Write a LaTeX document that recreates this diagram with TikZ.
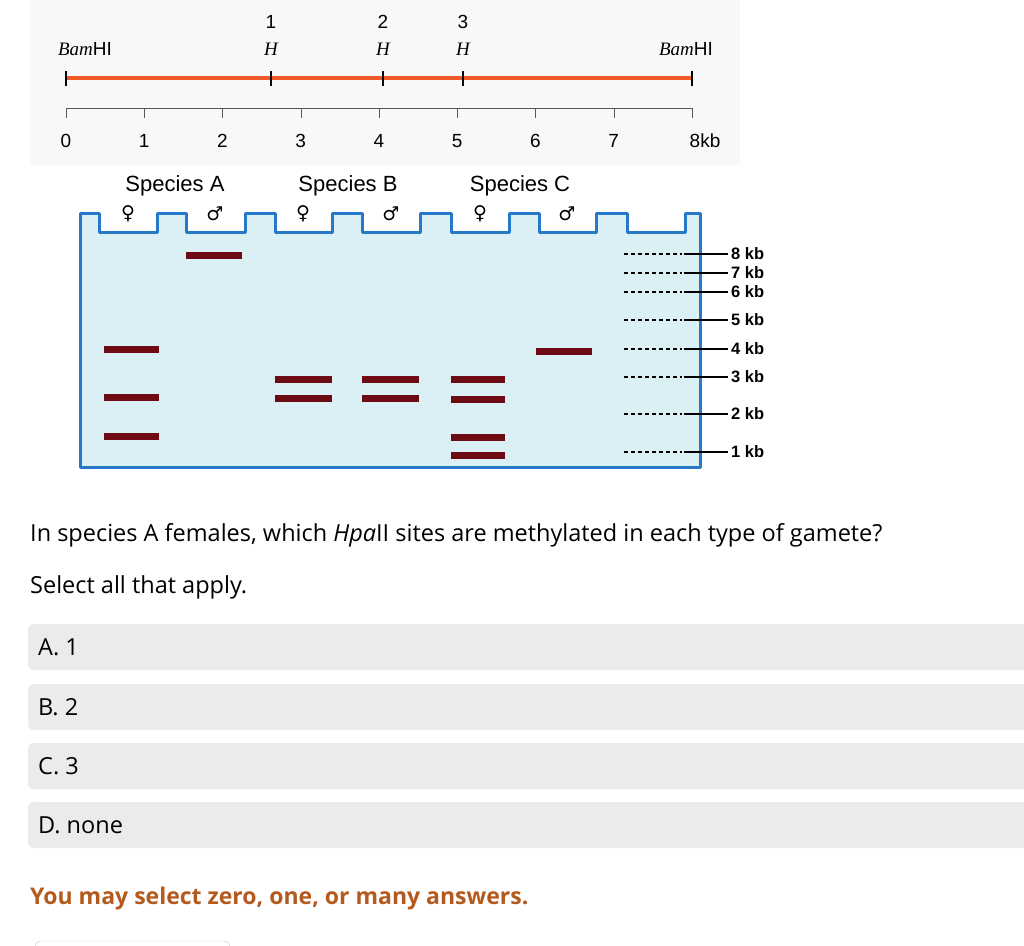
\documentclass[tikz,border=0pt]{standalone}
\usepackage{fontspec}
\setmainfont{Open Sans}
\newfontfamily\djv{DejaVu Sans}
\newfontfamily\arl{Liberation Sans}
\newfontfamily\tms{Liberation Serif}
\definecolor{bandc}{RGB}{110,10,20}
\definecolor{optc}{RGB}{235,235,235}
\definecolor{bgc}{RGB}{248,248,248}
\definecolor{mapc}{RGB}{240,90,40}
\definecolor{gelc}{RGB}{218,240,245}
\definecolor{gelb}{RGB}{40,120,200}
\definecolor{orc}{RGB}{180,90,30}
\begin{document}
\begin{tikzpicture}[x=1pt,y=-1pt,
  band/.style={line width=7pt,draw=bandc},
  lab/.style={font=\arl\fontsize{19}{21}\selectfont,inner sep=0},
  mk/.style={font=\arl\bfseries\fontsize{16.5}{17}\selectfont,anchor=west,inner sep=0},
  opt/.style={fill=optc,rounded corners=6pt,draw=none},
  otext/.style={font=\fontsize{23.5}{28}\selectfont,anchor=west,inner sep=0}]
\useasboundingbox (0,0) rectangle (1024,945);
\fill[white] (0,0) rectangle (1024,945);
\fill[bgc] (30,0) rectangle (740,165);
% map
\draw[line width=4pt,mapc] (66,78) -- (692,78);
\foreach \x in {66,271,383,463,692} \draw[line width=1.5pt] (\x,71) -- (\x,86);
\node[lab] (b1) at (85,49) {\tms\itshape Bam\normalfont\arl HI};
\node[lab] (b2) at (686,49) {\tms\itshape Bam\normalfont\arl HI};
\foreach \x/\n in {271/1,383/2,463/3}{
  \node[lab] (n\n) at (\x,22) {\n};
  \node[lab] (h\n) at (\x,49) {\tms\itshape H};}
% scale
\draw[thick,gray!70!black] (66,108) -- (692,108);
\foreach \i in {0,...,8} \draw[gray!70!black] ({66+78.25*\i},108) -- ({66+78.25*\i},118);
\foreach \i in {0,...,7} \node[lab] (s\i) at ({66+78.25*\i},141) {\i};
\node[lab] (s8) at (705,141) {8kb};
% gel
\node[lab,font=\arl\fontsize{22}{24}\selectfont] (sa) at (175,186) {Species A};
\node[lab,font=\arl\fontsize{22}{24}\selectfont] (sb) at (348,186) {Species B};
\node[lab,font=\arl\fontsize{22}{24}\selectfont] (sc) at (520,186) {Species C};
\fill[gelc] (80,213) -- (99,213) -- (99,232) -- (157,232) -- (157,213) -- (186,213) -- (186,232) -- (245,232) -- (245,213) -- (275,213) -- (275,232) -- (332,232) -- (332,213) -- (362,213) -- (362,232) -- (420,232) -- (420,213) -- (451,213) -- (451,232) -- (509,232) -- (509,213) -- (539,213) -- (539,232) -- (596,232) -- (596,213) -- (627,213) -- (627,232) -- (685,232) -- (685,213) -- (700,213) -- (700,467) -- (80,467) -- cycle;
\draw[line width=3pt,gelb,line join=round] (80,467) -- (80,213) -- (99,213) -- (99,232) -- (157,232) -- (157,213) -- (186,213) -- (186,232) -- (245,232) -- (245,213) -- (275,213) -- (275,232) -- (332,232) -- (332,213) -- (362,213) -- (362,232) -- (420,232) -- (420,213) -- (451,213) -- (451,232) -- (509,232) -- (509,213) -- (539,213) -- (539,232) -- (596,232) -- (596,213) -- (627,213) -- (627,232) -- (685,232) -- (685,213) -- (700,213) -- (700,467) -- cycle;
\foreach \x/\s [count=\k] in {128/♀,215/♂,303/♀,391/♂,480/♀,567/♂}
  \node[font=\djv\fontsize{19}{20}\selectfont,inner sep=0] (g\k) at (\x,214) {\s};
\foreach \y in {349,397,436} \draw[band] (104,\y) -- (159,\y);
\draw[band] (186,255) -- (242,255);
\foreach \y in {379,398} {\draw[band] (275,\y) -- (332,\y); \draw[band] (362,\y) -- (419,\y);}
\foreach \y in {379,399,437,455} \draw[band] (451,\y) -- (505,\y);
\draw[band] (536,351) -- (592,351);
\foreach \y/\t in {254/8,273/7,292/6,320/5,349/4,377/3,414/2,452/1}{
  \draw[line width=2pt,dash pattern=on 4pt off 3pt] (624,\y) -- (682,\y);
  \draw[line width=1.8pt] (684,\y) -- (728,\y);
  \node[mk] (m\t) at (731,\y) {\t\ kb};}
% question
\node[otext] (q) at (30,535) {In species A females, which \textit{Hpa}II sites are methylated in each type of gamete?};
\node[otext] (q2) at (30,587) {Select all that apply.};
\foreach \y/\t [count=\k] in {647/A. 1,707/B. 2,766/C. 3,825/D. none}{
  \fill[opt] (28,{\y-23}) rectangle (1040,{\y+23});
  \node[otext] (o\k) at (38,\y) {\t};}
\node[otext,font=\bfseries\fontsize{23}{28}\selectfont,text=orc] (f) at (30,899) {You may select zero, one, or many answers.};
\draw[gray!40,rounded corners=6pt] (35,950) -- (35,941) -- (230,941) -- (230,950);
\end{tikzpicture}
\end{document}
